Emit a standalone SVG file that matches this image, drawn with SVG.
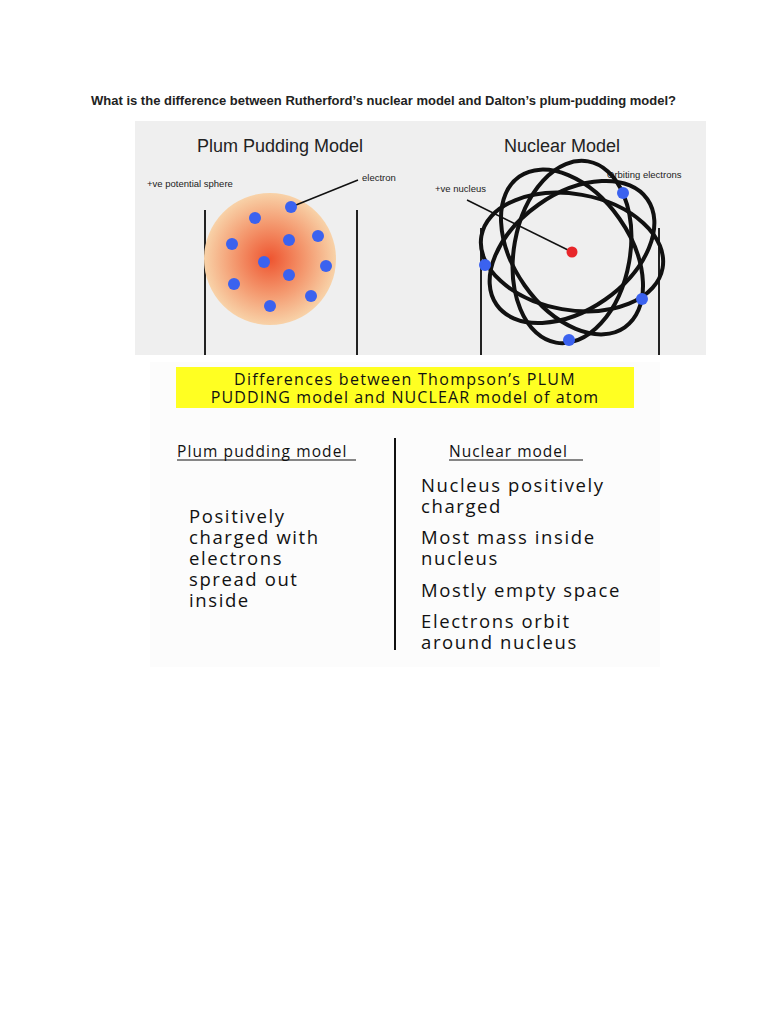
<svg xmlns="http://www.w3.org/2000/svg" width="768" height="1024" viewBox="0 0 768 1024">
<defs>
<radialGradient id="pp" cx="0.5" cy="0.5" r="0.5">
<stop offset="0" stop-color="#ee5530"/><stop offset="0.55" stop-color="#f49a70"/><stop offset="1" stop-color="#f8d2a8"/>
</radialGradient>
<style>
.e{fill:#3b62ef}
.o{fill:none;stroke:#111;stroke-width:4}
.v{stroke:#222;stroke-width:2}
.s{font-family:"Liberation Sans",Arial,sans-serif;fill:#222}
.c{font-family:"Open Sans","DejaVu Sans",sans-serif;fill:#111}
</style>
</defs>
<rect width="768" height="1024" fill="#fff"/>
<text x="91" y="105" class="s" font-size="12.5" font-weight="bold" textLength="585" lengthAdjust="spacingAndGlyphs">What is the difference between Rutherford’s nuclear model and Dalton’s plum-pudding model?</text>
<g id="picture">
<rect x="135" y="121" width="571" height="234" fill="#efefef"/>
<text x="280" y="152" class="s" font-size="18" text-anchor="middle">Plum Pudding Model</text>
<text x="562" y="152" class="s" font-size="18" text-anchor="middle">Nuclear Model</text>
<text x="147" y="187" class="s" font-size="9.5">+ve potential sphere</text>
<text x="362" y="181" class="s" font-size="9.5">electron</text>
<text x="607" y="178" class="s" font-size="9.5">Orbiting electrons</text>
<text x="435" y="192" class="s" font-size="9.5">+ve nucleus</text>
<line class="v" x1="205" y1="210" x2="205" y2="355"/>
<line class="v" x1="357" y1="210" x2="357" y2="355"/>
<line class="v" x1="481" y1="228" x2="481" y2="355"/>
<line class="v" x1="659" y1="228" x2="659" y2="355"/>
<circle cx="270" cy="259" r="66" fill="url(#pp)"/>
<line x1="296" y1="205" x2="358" y2="180" stroke="#111" stroke-width="1.5"/>
<g class="e">
<circle cx="291" cy="207" r="6"/><circle cx="255" cy="218" r="6"/><circle cx="232" cy="244" r="6"/><circle cx="289" cy="240" r="6"/><circle cx="318" cy="236" r="6"/><circle cx="264" cy="262" r="6"/><circle cx="326" cy="266" r="6"/><circle cx="289" cy="275" r="6"/><circle cx="234" cy="284" r="6"/><circle cx="311" cy="296" r="6"/><circle cx="270" cy="306" r="6"/>
</g>
<g transform="translate(572,252)">
<ellipse class="o" rx="92" ry="58" transform="rotate(10)"/>
<ellipse class="o" rx="92" ry="58" transform="rotate(55)"/>
<ellipse class="o" rx="92" ry="58" transform="rotate(100)"/>
<ellipse class="o" rx="92" ry="58" transform="rotate(145)"/>
</g>
<line x1="467" y1="200" x2="570" y2="251" stroke="#111" stroke-width="1.5"/>
<circle cx="572" cy="252" r="5.5" fill="#e8262a"/>
<g class="e"><circle cx="623" cy="193" r="6"/><circle cx="485" cy="265" r="6"/><circle cx="642" cy="299" r="6"/><circle cx="569" cy="340" r="6"/></g>
</g>
<g id="table">
<rect x="150" y="362" width="510" height="305" fill="#fcfcfc"/>
<rect x="176" y="367" width="458" height="41" fill="#ffff22"/>
<text x="405" y="385" class="c" font-size="16" letter-spacing="1.3" text-anchor="middle">Differences between Thompson’s PLUM</text>
<text x="405" y="403" class="c" font-size="16" letter-spacing="1.1" text-anchor="middle">PUDDING model and NUCLEAR model of atom</text>
<line x1="395" y1="438" x2="395" y2="650" stroke="#111" stroke-width="2"/>
<text x="177" y="457" class="c" font-size="15.5" letter-spacing="1.1">Plum pudding model</text>
<line x1="177" y1="460" x2="356" y2="460" stroke="#111" stroke-width="1"/>
<text x="449" y="457" class="c" font-size="15.5" letter-spacing="1">Nuclear model</text>
<line x1="449" y1="460" x2="583" y2="460" stroke="#111" stroke-width="1"/>
<g class="c" font-size="18.5" letter-spacing="1.6">
<text x="189" y="523">Positively</text><text x="189" y="544">charged with</text><text x="189" y="565">electrons</text><text x="189" y="586">spread out</text><text x="189" y="607">inside</text>
<text x="421" y="492">Nucleus positively</text><text x="421" y="513">charged</text>
<text x="421" y="544">Most mass inside</text><text x="421" y="565">nucleus</text>
<text x="421" y="597">Mostly empty space</text>
<text x="421" y="628">Electrons orbit</text><text x="421" y="649">around nucleus</text>
</g>
</g>
</svg>
